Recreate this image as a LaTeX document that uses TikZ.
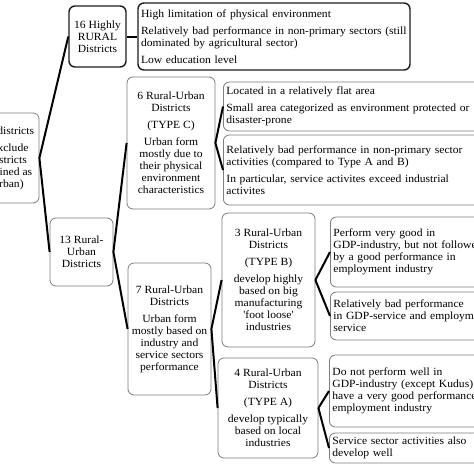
\documentclass[tikz,border=0pt]{standalone}
\usepackage{fontspec}
\setmainfont{Liberation Serif}[FakeStretch=1.055]
\usetikzlibrary{positioning}
\definecolor{boxgray}{RGB}{125,125,125}
\definecolor{boxdark}{RGB}{30,30,30}
\tikzset{
  district/.style={
    draw=boxgray,
    line width=0.8pt,
    rectangle,
    rounded corners=6pt,
    align=center,
    inner sep=2pt,
    font=\fontsize{11}{12}\selectfont
  },
  darkbox/.style={
    draw=boxdark,
    line width=1.4pt
  },
  trait/.style={
    district,
    align=left,
    inner xsep=3pt
  },
  link/.style={
    line width=2pt,
    draw=black
  }
}

\begin{document}
\begin{tikzpicture}[x=1pt, y=-1pt]
          \useasboundingbox (0,0) rectangle (474,474);
          \clip (0,0) rectangle (474,474);
          \fill[white] (0,0) rectangle (474,474);

          % left column
          \node[district, minimum width=61, minimum height=90] (root) at (8.5,158)
            {29 districts\\[5pt](exclude\\districts\\defined as\\urban)};
          \node[district, darkbox, minimum width=57, minimum height=61] (hr16) at (97.5,36.5)
            {16 Highly\\RURAL\\Districts};
          \node[district, minimum width=63, minimum height=68] (ru13) at (81.5,252)
            {13 Rural-\\Urban\\Districts};

          % rural-urban groups
          \node[district, minimum width=88, minimum height=132] (ruC) at (171,143)
            {6 Rural-Urban\\Districts\\[5pt](TYPE C)\\[5pt]Urban form\\mostly due to\\their physical\\environment\\characteristics};
          \node[district, minimum width=83, minimum height=132] (ru7) at (169.5,329)
            {7 Rural-Urban\\Districts\\[5pt]Urban form\\mostly based on\\industry and\\service sectors\\performance};
          \node[district, minimum width=93, minimum height=134] (ruB) at (268.5,280)
            {3 Rural-Urban\\Districts\\[5pt](TYPE B)\\[5pt]develop highly\\based on big\\manufacturing\\\textquotesingle foot loose\textquotesingle\\industries};
          \node[district, minimum width=100, minimum height=100] (ruA) at (268,408)
            {4 Rural-Urban\\Districts\\[5pt](TYPE A)\\[5pt]develop typically\\based on local\\industries};

          % characteristics
          \node[trait, darkbox, text width=266, minimum height=67] (lim) at (274,36.5)
            {High limitation of physical environment\\[5pt]Relatively bad performance in non-primary sectors (still\\dominated by agricultural sector)\\[5pt]Low education level};
          \node[trait, text width=290, minimum height=49, anchor=west] (flat) at (223,106.5)
            {Located in a relatively flat area\\[5pt]Small area categorized as environment protected or\\disaster-prone};
          \node[trait, text width=290, minimum height=70, anchor=west] (badC) at (223,170)
            {Relatively bad performance in non-primary sector\\activities (compared to Type A and B)\\[5pt]In particular, service activites exceed industrial\\activites};
          \node[trait, text width=200, minimum height=70, anchor=west] (perfB) at (330,252)
            {Perform very good in\\GDP-industry, but not followed\\by a good performance in\\employment industry};
          \node[trait, text width=200, minimum height=48, anchor=west] (relB) at (330,316)
            {Relatively bad performance\\in GDP-service and employment\\service};
          \node[trait, text width=200, minimum height=72, anchor=west] (doA) at (329,391)
            {Do not perform well in\\GDP-industry (except Kudus)\\have a very good performance in\\employment industry};
          \node[trait, text width=200, minimum height=30, anchor=west] (svcA) at (329,448)
            {Service sector activities also\\develop well};

          \draw[link] (root.east) -- (hr16.west);
          \draw[link] (root.east) -- (ru13.west);
          \draw[link] (hr16.east) -- (lim.west);
          \draw[link] (ru13.east) -- (ruC.west);
          \draw[link] (ru13.east) -- (ru7.west);
          \draw[link] (ruC.east) -- (flat.west);
          \draw[link] (ruC.east) -- (badC.west);
          \draw[link] (ru7.east) -- (ruB.west);
          \draw[link] (ru7.east) -- (ruA.west);
          \draw[link] (ruB.east) -- (perfB.west);
          \draw[link] (ruB.east) -- (relB.west);
          \draw[link] (ruA.east) -- (doA.west);
          \draw[link] (ruA.east) -- (svcA.west);
        \end{tikzpicture}
\end{document}
